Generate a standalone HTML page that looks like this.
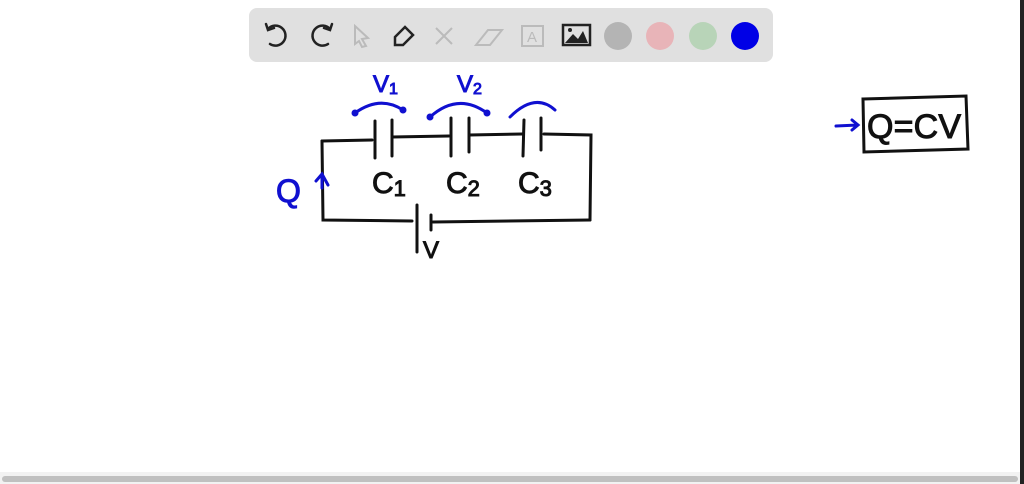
<!DOCTYPE html>
<html><head><style>
html,body{margin:0;padding:0;width:1024px;height:484px;background:#fff;overflow:hidden;}
svg{position:absolute;left:0;top:0}
</style></head><body>
<svg width="1024" height="484" viewBox="0 0 1024 484" xmlns="http://www.w3.org/2000/svg">
<!-- toolbar -->
<rect x="249" y="8" width="524" height="54" rx="8" fill="#e0e0e0"/>
<g fill="none" stroke="#222" stroke-width="2.5" stroke-linecap="round">
<path d="M268 29 A10 10 0 1 1 270 44"/><path d="M266 24 L268 30 L274 28"/>
<path d="M330 29 A10 10 0 1 0 328 44"/><path d="M332 24 L330 30 L324 28"/>
<path d="M395 45 L395 37 L405 27 L413 35 L403 45 Z"/>
</g>
<g fill="none" stroke="#bbb" stroke-width="2">
<path d="M355 26 L368 38 L362 39 L366 46 L362 47 L359 41 L355 44 Z"/>
<path d="M436 28 L452 44 M452 28 L436 44"/>
<path d="M476 45 L488 30 L502 30 L490 45 Z"/>
<rect x="522" y="26" width="21" height="20"/>
<text x="532" y="42" font-family="Liberation Sans,sans-serif" font-size="15" fill="#bbb" stroke="none" text-anchor="middle">A</text>
</g>
<rect x="563" y="25" width="27" height="20" fill="none" stroke="#222" stroke-width="2.5"/>
<path d="M565 43 L573 34 L578 39 L583 31 L588 43 Z" fill="#222"/>
<circle cx="570" cy="30" r="2" fill="#222"/>
<circle cx="618" cy="36" r="14" fill="#b4b4b4"/>
<circle cx="660" cy="36" r="14" fill="#e8b4b8"/>
<circle cx="703" cy="36" r="14" fill="#b8d4b8"/>
<circle cx="745" cy="36" r="14" fill="#0000e6"/>
<!-- circuit -->
<g fill="none" stroke="#111" stroke-width="3" stroke-linecap="round">
<path d="M322 141 L372 140"/>
<path d="M375 121 L375 158 M392 120 L392 156"/>
<path d="M392 137 L449 136"/>
<path d="M451 118 L451 156 M469 118 L469 152"/>
<path d="M469 135 L522 134"/>
<path d="M524 120 L523 156 M541 118 L541 150"/>
<path d="M544 134 L591 135 L590 220"/>
<path d="M322 141 L323 220 L412 221"/>
<path d="M417 205 L417 252 M431 215 L431 230"/>
<path d="M433 222 L590 220"/>
</g>
<g font-family="Liberation Sans,sans-serif" font-size="30" fill="#111" stroke="#111" stroke-width="1">
<text x="372" y="193">C<tspan font-size="22" dy="3">1</tspan></text>
<text x="446" y="193">C<tspan font-size="22" dy="3">2</tspan></text>
<text x="518" y="193">C<tspan font-size="22" dy="3">3</tspan></text>
<text x="423" y="258" font-size="24">V</text>
</g>
<!-- blue -->
<g fill="none" stroke="#1010d0" stroke-width="3" stroke-linecap="round">
<path d="M355 113 Q380 95 403 110"/>
<path d="M430 117 Q458 92 487 113"/>
<path d="M510 117 Q535 92 555 110"/>
<path d="M322 188 L322 174 M316 181 L322 174 L328 185"/>
<path d="M836 126 L858 125 M852 120 L858 125 L852 130"/>
</g>
<g fill="#1010d0"><circle cx="355" cy="113" r="3.5"/><circle cx="403" cy="110" r="3.5"/><circle cx="430" cy="117" r="3.5"/><circle cx="487" cy="113" r="3.5"/></g>
<g font-family="Liberation Sans,sans-serif" fill="#1010d0" stroke="#1010d0" stroke-width="1">
<text x="373" y="92" font-size="24">V<tspan font-size="16" dy="2">1</tspan></text>
<text x="457" y="92" font-size="24">V<tspan font-size="16" dy="2">2</tspan></text>
<text x="276" y="202" font-size="32">Q</text>
</g>
<!-- box -->
<path d="M863 99 L966 96 L968 149 L864 152 Z" fill="none" stroke="#111" stroke-width="3"/>
<text x="867" y="138" font-family="Liberation Sans,sans-serif" font-size="34" fill="#111" stroke="#111" stroke-width="1" textLength="94">Q=CV</text>
<!-- scrollbar -->
<rect x="0" y="472" width="1020" height="12" fill="#f2f2f2"/>
<rect x="2" y="476" width="1016" height="6" rx="3" fill="#c0c0c0"/>
<rect x="1020" y="0" width="4" height="484" fill="#222"/>
</svg>
</body></html>
